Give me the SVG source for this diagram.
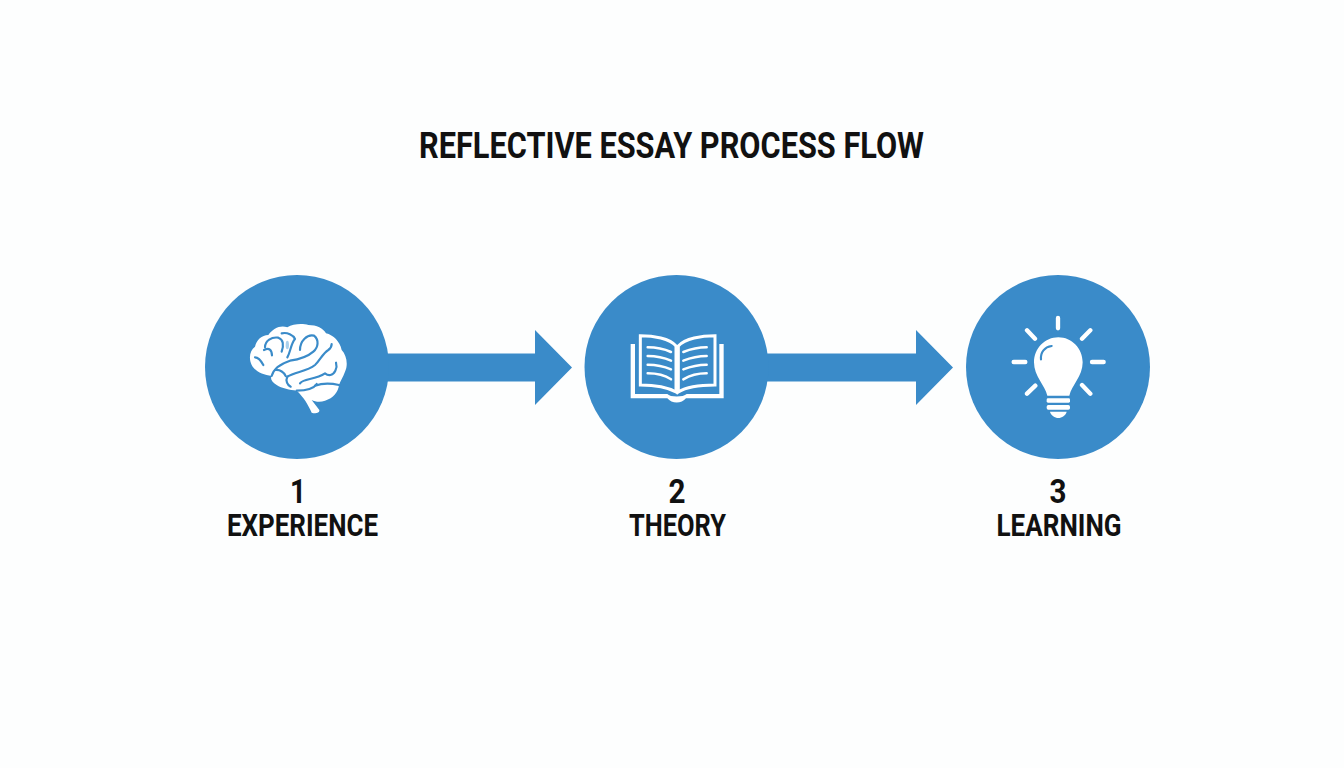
<svg xmlns="http://www.w3.org/2000/svg" width="1344" height="768" viewBox="0 0 1344 768">
<style>
.t{font-family:Roboto,"Liberation Sans",sans-serif;font-weight:700;fill:#111;text-anchor:middle}
.title{font-size:36.500px}.num{font-size:33px}.lab{font-size:30.500px}
.disc{fill:#3a8bc9}
.g{fill:none;stroke:#3a8bc9;stroke-width:6.500;stroke-linecap:round;stroke-linejoin:round}
.w{fill:none;stroke:#fff;stroke-linecap:round;stroke-linejoin:miter}
.f{fill:#fff}
</style>
<rect width="1344" height="768" fill="#fdfefe"/>
<text id="title" class="t title" x="671.500" y="158" textLength="505" lengthAdjust="spacingAndGlyphs">REFLECTIVE ESSAY PROCESS FLOW</text>
<g id="connectors">
<path class="disc" d="M380,353.500H535V330L572,367.500L535,405V381.500H380Z"/>
<path class="disc" d="M760,353.500H916V330L953,367.500L916,405V381.500H760Z"/>
</g>
<g id="node1">
<circle class="disc" cx="297" cy="367" r="92"/>
<g transform="translate(200 270) scale(.33333)">
<path class="f" d="M215,318C190,315 165,305 155,285C145,265 150,240 165,230C170,210 185,195 205,195C220,175 240,165 262,172C280,160 310,160 325,165C350,165 370,175 378,190C400,195 420,215 425,240C440,255 445,285 435,305C430,320 420,335 417,345C415,365 400,385 375,392C360,398 345,395 335,390L358,420C360,430 345,432 335,428C325,405 310,380 290,362C270,360 245,355 230,345C215,335 210,325 215,318Z"/>
<g class="g">
<path d="M195,232C195,212 215,200 235,203C250,208 252,225 245,245"/>
<path d="M192,240C208,232 215,240 216,256"/>
<path d="M165,262C175,262 182,270 190,285"/>
<path d="M245,190C262,186 280,195 285,207C272,222 272,245 262,262"/>
<path d="M300,240C300,212 322,192 342,197C358,210 355,232 340,245C325,258 300,268 270,272C245,280 222,292 215,318"/>
<path d="M262,320C285,305 320,305 345,285C360,272 368,250 385,240C392,235 395,228 395,222"/>
<path d="M262,320C256,332 262,345 272,350"/>
<path d="M300,340C310,325 345,330 375,310C385,318 398,318 406,302C411,292 410,284 408,278"/>
<path d="M345,347C370,338 395,340 417,345"/>
<path d="M290,362C310,362 340,358 350,342"/>
<path d="M225,300C240,298 250,305 257,318"/>
</g>
<ellipse cx="262" cy="225" rx="5" ry="13" fill="#a9d0ec"/>
</g>
<text class="t num" x="298" y="502.500" textLength="16" lengthAdjust="spacingAndGlyphs">1</text>
<text class="t lab" x="302.500" y="536" textLength="151" lengthAdjust="spacingAndGlyphs">EXPERIENCE</text>
</g>
<g id="node2">
<circle class="disc" cx="676.500" cy="367" r="92"/>
<g transform="translate(580 270) scale(.33333)">
<path class="f" d="M152,222H165V372H262C270,382 310,382 320,372H418V222H431V385H318C305,402 275,402 262,385H152Z"/>
<g class="w" stroke-width="9">
<path d="M181,197C220,197 270,205 288,228V366C260,350 220,345 181,345Z"/>
<path d="M405,197C365,197 315,205 295,228V366C320,350 365,345 405,345Z"/>
</g>
<g class="w" stroke-width="7.500">
<path d="M203,232C230,232 255,238 273,246M203,258C230,258 255,264 273,272M203,284C230,284 255,290 273,298M203,310C230,310 255,316 273,328"/>
<path d="M380,232C355,232 330,238 310,246M380,258C355,258 330,264 310,272M380,284C355,284 330,290 310,298M380,310C355,310 330,316 310,328"/>
</g>
</g>
<text class="t num" x="677" y="502.500" textLength="17" lengthAdjust="spacingAndGlyphs">2</text>
<text class="t lab" x="677.500" y="536" textLength="97" lengthAdjust="spacingAndGlyphs">THEORY</text>
</g>
<g id="node3">
<circle class="disc" cx="1058" cy="367" r="92"/>
<g transform="translate(960 270) scale(.33333)">
<g class="w" stroke-width="13">
<path d="M294,144V175M201,181L225,206M391,181L366,206M161,276H196M396,276H431M201,371L226,347M391,371L366,345"/>
</g>
<path class="f" d="M262,377C255,345 222,320 222,277C222,235 255,202 295,202C335,202 368,235 368,277C368,320 335,345 328,377Z"/>
<path class="g" d="M243,268C241,247 254,231 275,228"/>
<rect class="f" x="260" y="385" width="70" height="13" rx="4"/>
<rect class="f" x="260" y="405" width="70" height="14" rx="5"/>
<path class="f" d="M270,425H320C318,436 305,444 295,444C285,444 272,436 270,425Z"/>
</g>
<text class="t num" x="1058" y="502.500" textLength="17" lengthAdjust="spacingAndGlyphs">3</text>
<text class="t lab" x="1059" y="536" textLength="125" lengthAdjust="spacingAndGlyphs">LEARNING</text>
</g>
</svg>
